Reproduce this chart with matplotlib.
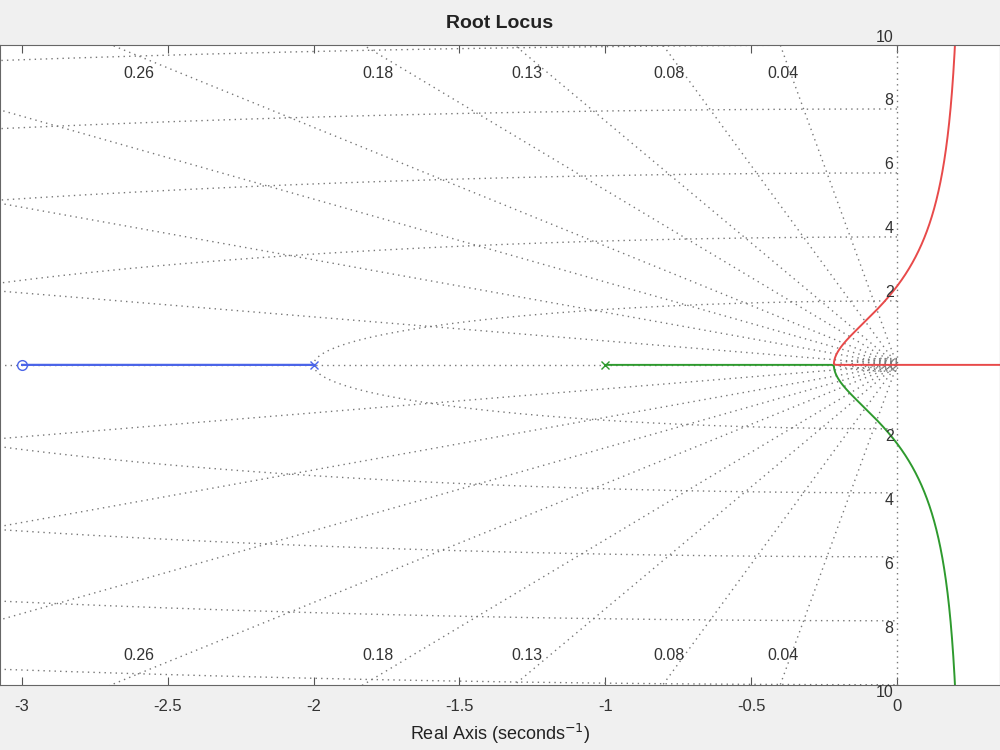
import numpy as np
import matplotlib.pyplot as plt

plt.rcParams['font.family'] = ['Liberation Sans', 'DejaVu Sans']

# open-loop system: G(s) = (s+3) / ((s+1)(s+2)(s-0.46))
poles = [-2.0, -1.0, 0.46]
zeros = [-3.0]
zeta_labels = [0.26, 0.18, 0.13, 0.08, 0.04]
zeta_label_x = [-2.6, -1.78, -1.27, -0.78, -0.39]
zeta_extra = [0.36, 0.52, 0.8]
wn_labels = [2, 4, 6, 8, 10]
wn_small = [0.03, 0.06, 0.09, 0.12, 0.16, 0.2]
xticks = [-3, -2.5, -2, -1.5, -1, -0.5, 0]

den = np.poly(poles)
num = np.poly(zeros)
gains = np.concatenate([np.linspace(0, 2, 4000), np.logspace(np.log10(2), 4, 4000)])

blue, green, red = [], [], []
for k in gains:
    r = np.roots(np.polyadd(den, k * num))
    r = r[np.argsort(r.real)]
    blue.append(r[0])
    a, b = r[1], r[2]
    if abs(a.imag) < 1e-9 and abs(b.imag) < 1e-9:
        green.append(min(a.real, b.real)); red.append(max(a.real, b.real))
    else:
        hi, lo = (a, b) if a.imag > 0 else (b, a)
        red.append(hi); green.append(lo)
blue, green, red = map(np.array, (blue, green, red))

fig = plt.figure(figsize=(10, 7.5), dpi=100, facecolor='#f0f0f0')
ax = fig.add_axes([0, 0.087, 1, 0.853])
ax.set_xlim(-3.075, 0.353)
ax.set_ylim(-10, 10)

gc = '#777777'
gl = 1.0
ls = (0, (1, 3))
# damping rays
for z in zeta_labels + zeta_extra:
    t = np.linspace(0, 40, 2)
    for sgn in (1, -1):
        ax.plot(-z * t, sgn * np.sqrt(1 - z**2) * t, linestyle=ls, color=gc, lw=gl)
ax.plot([-4, 0], [0, 0], linestyle=ls, color=gc, lw=gl)
ax.plot([0, 0], [-10, 10], linestyle=ls, color=gc, lw=gl)
# natural frequency circles
th = np.linspace(np.pi / 2, 3 * np.pi / 2, 600)
for w in wn_labels + wn_small:
    ax.plot(w * np.cos(th), w * np.sin(th), linestyle=ls, color=gc, lw=gl)

for z, x in zip(zeta_labels, zeta_label_x):
    ax.text(x, 9.1, f"{z:g}", ha='center', va='center', fontsize=11.5, color='#333333')
    ax.text(x, -9.1, f"{z:g}", ha='center', va='center', fontsize=11.5, color='#333333')
for w in wn_labels:
    ax.text(-0.012, w + 0.25, str(w), ha='right', va='center', fontsize=11.5, color='#333333')
    ax.text(-0.012, -w - 0.25, str(w), ha='right', va='center', fontsize=11.5, color='#333333')

ax.plot(blue.real, blue.imag, color='#4a64e8', lw=1.6)
ax.plot(green.real, green.imag, color='#2e9a2e', lw=1.4)
ax.plot(red.real, red.imag, color='#e84a4a', lw=1.4)
ax.plot([poles[0]], [0], 'x', color='#4a64e8', ms=6)
ax.plot([poles[1]], [0], 'x', color='#2e9a2e', ms=6)
ax.plot(zeros, [0], 'o', color='#4a64e8', mfc='none', ms=7)

ax.set_xticks(xticks)
ax.set_xticklabels([f"{v:g}" for v in xticks], fontsize=12, color='#333333')
ax.set_yticks([])
ax.tick_params(axis='x', top=True, direction='in', length=6, color='#555555', pad=10)
for s in ax.spines.values():
    s.set_color('#666666')
ax.set_xlabel("Real Axis (seconds$^{-1}$)", fontsize=13, color='#222222', labelpad=6)
ax.set_title("Root Locus", fontsize=14, fontweight='bold', pad=12, color='#222222')

fig.savefig("out.png", dpi=100, facecolor=fig.get_facecolor())
